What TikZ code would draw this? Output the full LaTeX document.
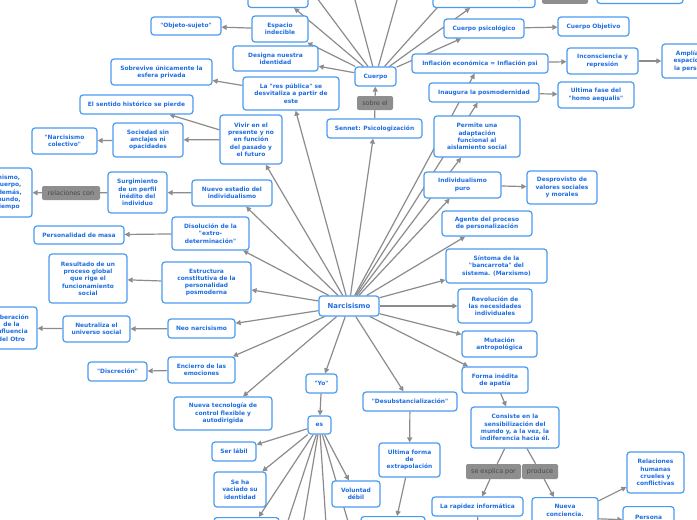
\documentclass[tikz,border=0pt]{standalone}
\usepackage{fontspec}
\newfontfamily\djv{DejaVu Sans}
\usetikzlibrary{arrows.meta}
\pgfdeclarelayer{bg}
\pgfsetlayers{bg,main}
\definecolor{tb}{HTML}{1E6EE1}
\definecolor{bd}{HTML}{4A9AF0}
\definecolor{eg}{HTML}{8C8C8C}
\definecolor{lf}{HTML}{8E8E8E}
\definecolor{lt}{HTML}{484848}
\tikzset{
 box/.style={draw=bd, line width=1.2pt, rounded corners=3pt, fill=white, text=tb,
   font=\djv\bfseries\fontsize{5.9}{7.3}\selectfont, align=center, inner sep=1pt},
 lbl/.style={draw=none, rounded corners=2pt, fill=lf, text=lt,
   font=\djv\fontsize{6.4}{7.5}\selectfont, align=center, inner sep=1pt},
 edge/.style={draw=eg, line width=1.2pt, -{Triangle[length=5pt,width=5pt]}},
 link/.style={draw=eg, line width=1.2pt},
}
\newcommand\mynode[6][]{\node[box,minimum width=#4pt,minimum height=#5pt,#1] (#2) at (#3) {#6};}
\newcommand\mylbl[6][]{\node[lbl,minimum width=#4pt,minimum height=#5pt,#1] (#2) at (#3) {#6};}
\begin{document}
\begin{tikzpicture}[x=1pt,y=-1pt]
\useasboundingbox (0,0) rectangle (697,520);
% top area
\mynode[anchor=south]{fron}{278,8}{60}{26}{\mbox{}\\fronteras}
\mynode{esp}{280,29}{56}{26}{Espacio\\indecible}
\mynode{des}{275.5,58.5}{85}{25}{Designa nuestra\\identidad}
\mynode{cue}{375.5,76.5}{41}{19}{Cuerpo}
\mylbl{sob}{375,103}{36}{14}{sobre el}
\mynode{res}{291,93.5}{96}{33}{La "res pública" se\\desvitaliza a partir de\\este}
\mynode{sen}{374.5,128.5}{95}{19}{Sennet: Psicologización}
\mynode{viv}{251,139.5}{62}{49}{Vivir en el\\presente y no\\en función\\del pasado y\\el futuro}
\mynode{inf}{480,63.5}{136}{19}{Inflación económica = Inflación psi}
\mynode{cps}{484,28.5}{80}{19}{Cuerpo psicológico}
\mynode{cob}{593.5,26.5}{71}{19}{Cuerpo Objetivo}
\mynode[anchor=south]{nor}{484,8}{102}{19}{Normalización del cuerpo}
\mylbl[anchor=south]{tg}{565,4}{46}{14}{}
\mynode[anchor=south]{tr}{640,4}{86}{19}{}
\mynode{inc}{602.5,61}{71}{26}{Inconsciencia y\\represión}
\mynode{amp}{691.5,61}{59}{34}{Amplía el\\espacio de\\la persona}
\mynode{inau}{484,92.5}{110}{19}{Inaugura la posmodernidad}
\mynode{ult}{596,95}{76}{26}{Ultima fase del\\"homo aequalis"}
\mynode{per}{477,136.5}{86}{41}{Permite una\\adaptación\\funcional al\\aislamiento social}
% right side
\mynode{ind}{462.5,185}{77}{26}{Individualismo\\puro}
\mynode{dpr}{562,187.5}{70}{33}{Desprovisto de\\valores sociales\\y morales}
\mynode{age}{487,223.5}{90}{25}{Agente del proceso\\de personalización}
\mynode{sin}{496.5,266}{101}{34}{Síntoma de la\\"bancarrota" del\\sistema. (Marxismo)}
\mynode{rev}{495,306}{74}{34}{Revolución de\\las necesidades\\individuales}
\mynode{mut}{499.5,344}{75}{26}{Mutación\\antropológica}
\mynode{for}{495,380}{66}{26}{Forma inédita\\de apatía}
\mynode{con}{515,427.5}{88}{41}{Consiste en la\\sensibilización del\\mundo y, a la vez, la\\indiferencia hacia él.}
\mylbl{sep}{493.5,471.5}{55}{15}{se explica por}
\mylbl{pro}{540,471.5}{36}{15}{produce}
\mynode{rap}{477.5,506.5}{91}{19}{La rapidez informática}
\mynode[anchor=north]{nue}{565,497}{66}{40}{Nueva\\conciencia.\\\mbox{}\\\mbox{}}
\mynode{rel}{655.5,472.5}{57}{41}{Relaciones\\humanas\\crueles y\\conflictivas}
\mynode[anchor=north]{pers}{648.5,506}{51}{28}{Persona\\\mbox{}}
% left side
\mynode{obj}{186,26}{70}{18}{"Objeto-sujeto"}
\mynode{sbr}{161.5,72}{101}{26}{Sobrevive únicamente la\\esfera privada}
\mynode{shp}{136.5,104.5}{113}{19}{El sentido histórico se pierde}
\mynode{soc}{148,140}{70}{34}{Sociedad sin\\anclajes ni\\opacidades}
\mynode{ncol}{64.5,141}{65}{26}{"Narcisismo\\colectivo"}
\mynode{elm}{4,192.5}{56}{49}{él mismo,\\su cuerpo,\\los demás,\\el mundo,\\el tiempo}
\mylbl{rcon}{71,193}{58}{14}{relaciones con}
\mynode{sur}{137.5,192.5}{59}{41}{Surgimiento\\de un perfil\\inédito del\\individuo}
\mynode{nes}{232,193}{80}{26}{Nuevo estadio del\\individualismo}
\mynode{pma}{79,235}{90}{18}{Personalidad de masa}
\mynode{dis}{210.5,233.5}{77}{33}{Disolución de la\\"extro-\\determinación"}
\mynode{resu}{88,278.5}{78}{49}{Resultado de un\\proceso global\\que rige el\\funcionamiento\\social}
\mynode{est}{206.5,282.5}{89}{41}{Estructura\\constitutiva de la\\personalidad\\posmoderna}
\mynode{lib}{11.5,328}{51}{42}{Liberación\\de la\\influencia\\del Otro}
\mynode{neu}{96.5,329}{67}{26}{Neutraliza el\\universo social}
\mynode{neo}{201.5,328.5}{67}{19}{Neo narcisismo}
\mynode[font=\djv\bfseries\fontsize{6.9}{8}\selectfont]{nar}{349,306}{60}{20}{Narcisismo}
% bottom
\mynode{enc}{201.5,370}{67}{26}{Encierro de las\\emociones}
\mynode{dsc}{117.5,371.5}{59}{19}{"Discreción"}
\mynode{ntec}{223,413.5}{98}{33}{Nueva tecnología de\\control flexible y\\autodirigida}
\mynode{yo}{321.5,383.5}{31}{19}{"Yo"}
\mynode{es}{319.5,425}{23}{18}{es}
\mynode{ser}{234,451.5}{44}{19}{Ser lábil}
\mynode{vac}{240,489.5}{52}{35}{Se ha\\vaciado su\\identidad}
\mynode{vol}{356,494}{48}{26}{Voluntad\\débil}
\mynode{dsu}{410,401.5}{94}{19}{"Desubstancialización"}
\mynode{ufo}{409.5,460}{61}{34}{Ultima forma\\de\\extrapolación}
\mynode[anchor=north]{ba}{246.5,517}{65}{36}{}
\mynode[anchor=north]{bb}{393,516}{64}{36}{}
% free ends beyond the frame
\coordinate (c1) at (296,-30);
\coordinate (c2) at (347,-30);
\coordinate (c3) at (405.5,-30);
\coordinate (c4) at (471,-30);
\coordinate (e1) at (280,545);
\coordinate (e2) at (299.5,545);
\coordinate (e3) at (327.4,545);
\coordinate (e4) at (355,545);
\coordinate (e5) at (478,545);
\begin{pgfonlayer}{bg}
\fill[white] (0,0) rectangle (697,520);
% Cuerpo
\draw[edge] (cue) -- (fron);
\draw[edge] (cue) -- (esp);
\draw[edge] (cue) -- (des);
\draw[link] (cue) -- (c1);
\draw[link] (cue) -- (c2);
\draw[link] (cue) -- (c3);
\draw[link] (cue) -- (c4);
\draw[edge] (cue) -- (nor);
\draw[edge] (cue) -- (cps);
\draw[edge] (esp) -- (obj);
\draw[edge] (res) -- (sbr);
\draw[link] (sen) -- (sob);
\draw[edge] (sob) -- (cue);
\draw[edge] (cps) -- (cob);
\draw[edge] (inf) -- (inc);
\draw[edge] (inc) -- (amp);
\draw[edge] (inau) -- (ult);
\draw[edge] (ind) -- (dpr);
% Narcisismo
\foreach \t in {viv,res,sen,inf,inau,per,ind,age,sin,rev,mut,for,dsu,yo,enc,ntec,neo,est,dis,nes}
  \draw[edge] (nar) -- (\t);
\draw[edge] (viv) -- (shp);
\draw[edge] (viv) -- (soc);
\draw[edge] (soc) -- (ncol);
\draw[edge] (nes) -- (sur);
\draw[link] (sur) -- (rcon);
\draw[edge] (rcon) -- (elm);
\draw[edge] (dis) -- (pma);
\draw[edge] (est) -- (resu);
\draw[edge] (neo) -- (neu);
\draw[edge] (neu) -- (lib);
\draw[edge] (enc) -- (dsc);
\draw[edge] (yo) -- (es);
\draw[edge] (es) -- (ser);
\draw[edge] (es) -- (vac);
\draw[edge] (es) -- (ba);
\draw[link] (es) -- (e1);
\draw[link] (es) -- (e2);
\draw[link] (es) -- (e3);
\draw[edge] (es) -- (vol);
\draw[link] (es) -- (e4);
\draw[edge] (dsu) -- (ufo);
\draw[edge] (ufo) -- (bb);
\draw[edge] (for) -- (con);
\draw[link] (con) -- (sep);
\draw[edge] (sep) -- (rap);
\draw[link] (con) -- (pro);
\draw[edge] (pro) -- (nue);
\draw[edge] (nue) -- (rel);
\draw[edge] (nue) -- (pers);
\draw[link] (rap) -- (e5);
\end{pgfonlayer}
\end{tikzpicture}
\end{document}
